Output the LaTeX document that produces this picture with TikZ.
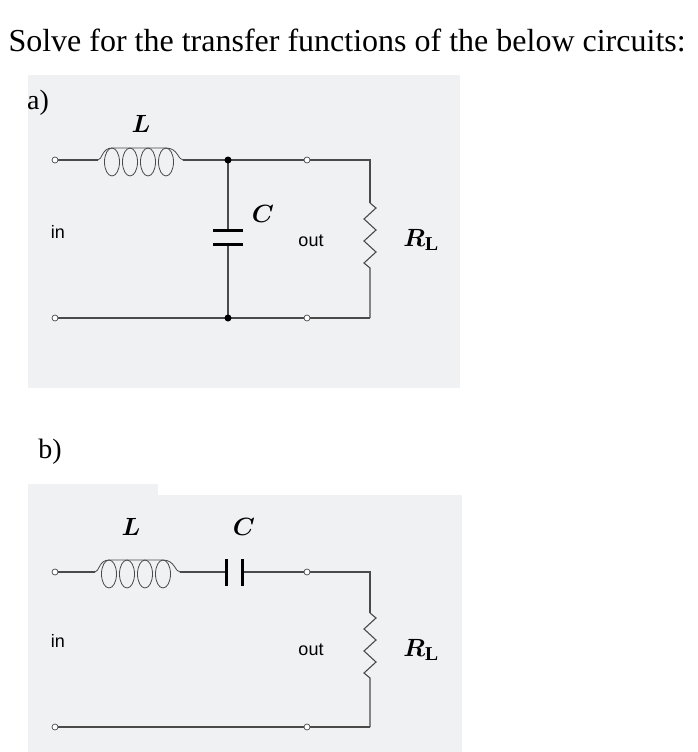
\documentclass[tikz,border=0pt]{standalone}
\usepackage{fontspec}
\setmainfont{Liberation Serif}
\setsansfont{Liberation Sans}
\definecolor{bgc}{HTML}{F0F1F3}
\definecolor{wire}{HTML}{4A4A4A}
\tikzset{
  w/.style={draw=wire,line width=1.1pt},
  term/.style={circle,draw=wire,fill=white,inner sep=0pt,minimum size=6pt,line width=0.7pt},
  junc/.style={circle,fill=black,inner sep=0pt,minimum size=7pt},
  lab/.style={font=\sffamily\fontsize{18}{20}\selectfont,text=black},
  mlab/.style={font=\fontsize{28}{30}\selectfont\boldmath,text=black},
  loopst/.style={draw=wire,line width=0.8pt},
  plate/.style={draw=black,line width=3pt}
}
\newcommand{\mycoil}[2]{% left x, wire y
  \foreach \k in {0,1,2,3}{
    \draw[loopst] ({#1+14+18*\k},{#2+2}) ellipse [x radius=7.5pt, y radius=14pt];
  }
  \draw[loopst] (#1,#2) .. controls ({#1+4},#2) and ({#1+4},{#2-12}) .. ({#1+14},{#2-12}) -- ({#1+68},{#2-12}) .. controls ({#1+80},{#2-12}) and ({#1+80},#2) .. ({#1+85},#2);
}
\begin{document}
\begin{tikzpicture}[x=1pt,y=-1pt]
\useasboundingbox (0,0) rectangle (697,752);
\fill[white] (0,0) rectangle (697,752);
\node[anchor=west,font=\fontsize{32}{34}\selectfont] (title) at (5,40) {Solve for the transfer functions of the below circuits:};
% ---------- a ----------
\fill[bgc] (28,75) rectangle (460,388);
\node[font=\fontsize{28}{30}\selectfont] (la) at (38,103) {a)};
\coordinate (a1) at (55,160); \coordinate (a2) at (55,318);
\coordinate (aLs) at (98,160); \coordinate (aLe) at (183,160);
\coordinate (aj1) at (228,160); \coordinate (aj2) at (228,318);
\coordinate (ao1) at (307,160); \coordinate (ao2) at (307,318);
\coordinate (ar1) at (370,160); \coordinate (ar2) at (370,318);
\draw[w] (a1) -- (aLs);
\mycoil{98}{160}
\draw[w] (aLe) -- (aj1) -- (ao1) -- (ar1) -- (370,203);
\draw[w] (aj1) -- (228,230) (228,244) -- (aj2);
\draw[plate] (213,230) -- (243,230) (213,244) -- (243,244);
\draw[w] (370,203) -- (376,208) -- (364,219) -- (376,230) -- (364,241) -- (376,252) -- (364,263) -- (370,268) -- (ar2);
\draw[w] (a2) -- (aj2) -- (ao2) -- (ar2);
\node[term] at (a1) {}; \node[term] at (a2) {};
\node[term] at (ao1) {}; \node[term] at (ao2) {};
\node[junc] at (aj1) {}; \node[junc] at (aj2) {};
\node[mlab] (aL) at (141,124) {$L$};
\node[mlab] (aC) at (263,214) {$C$};
\node[mlab] (aR) at (421,240) {$R_{\mathrm{L}}$};
\node[lab] (ain) at (58,232) {in};
\node[lab] (aout) at (311,241) {out};
% ---------- b ----------
\fill[bgc] (28,484) rectangle (158,495);
\fill[bgc] (28,495) rectangle (462,752);
\node[font=\fontsize{28}{30}\selectfont] (lb) at (50,452) {b)};
\coordinate (b1) at (55,572); \coordinate (b2) at (55,727);
\coordinate (bLs) at (95,572); \coordinate (bLe) at (180,572);
\coordinate (bc1) at (226,572); \coordinate (bc2) at (242,572);
\coordinate (bo1) at (307,572); \coordinate (bo2) at (307,727);
\coordinate (br1) at (370,572); \coordinate (br2) at (370,727);
\draw[w] (b1) -- (bLs);
\mycoil{95}{572}
\draw[w] (bLe) -- (bc1) (bc2) -- (bo1) -- (br1) -- (370,613);
\draw[plate] (226,559) -- (226,586) (242,559) -- (242,586);
\draw[w] (370,613) -- (376,618) -- (364,629) -- (376,640) -- (364,651) -- (376,662) -- (364,673) -- (370,678) -- (br2);
\draw[w] (b2) -- (bo2) -- (br2);
\node[term] at (b1) {}; \node[term] at (b2) {};
\node[term] at (bo1) {}; \node[term] at (bo2) {};
\node[mlab] (bL) at (131,527) {$L$};
\node[mlab] (bC) at (244,527) {$C$};
\node[mlab] (bR) at (421,650) {$R_{\mathrm{L}}$};
\node[lab] (bin) at (58,641) {in};
\node[lab] (bout) at (311,650) {out};
\end{tikzpicture}
\end{document}
